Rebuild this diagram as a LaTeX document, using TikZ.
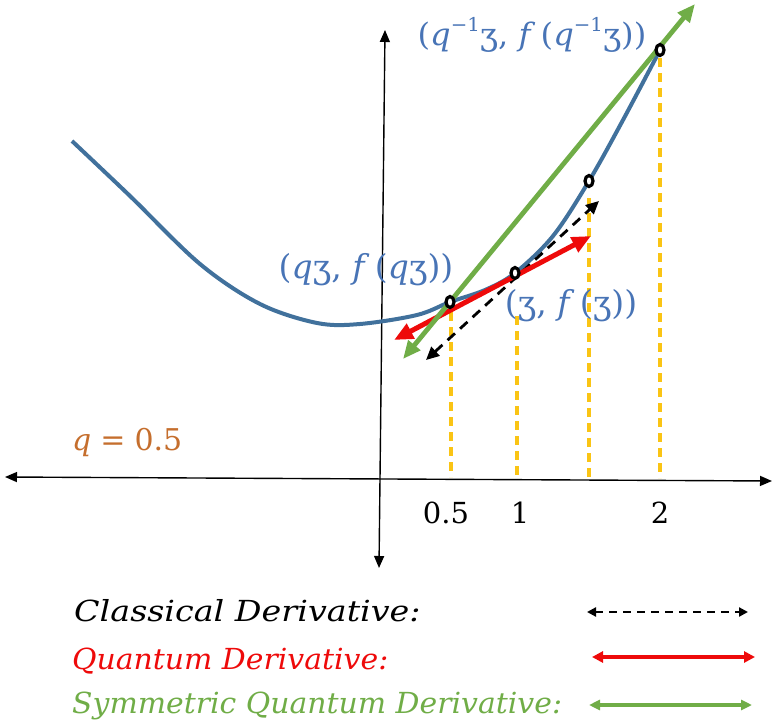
\documentclass[tikz,border=0pt]{standalone}
\usepackage{fontspec}
\setmainfont{DejaVu Serif}
\usepackage{graphicx}
\usetikzlibrary{arrows.meta,shapes.geometric}
\newcommand\supm{\raisebox{0.45em}{\fontsize{19}{22}\selectfont −1}}
\definecolor{curveblue}{RGB}{65,113,156}
\definecolor{labblue}{RGB}{72,116,182}
\definecolor{qgreen}{RGB}{112,173,71}
\definecolor{qred}{RGB}{238,10,10}
\definecolor{ygold}{RGB}{250,196,20}
\definecolor{qorange}{RGB}{197,110,45}
\tikzset{
  axisline/.style={draw=black, line width=1.4pt, {Triangle[length=12pt,width=10pt]}-{Triangle[length=12pt,width=10pt]}},
  ydash/.style={draw=ygold, line width=3.2pt, dash pattern=on 9pt off 6pt},
  curvestyle/.style={draw=curveblue, line width=4pt},
  ptmark/.style={draw=black, line width=3.2pt, ellipse, minimum width=8pt, minimum height=11pt, inner sep=0pt, fill=white},
  greenarr/.style={draw=qgreen, line width=4.8pt, {Triangle[length=18pt,width=15pt]}-{Triangle[length=18pt,width=15pt]}},
  redarr/.style={draw=qred, line width=5pt, {Triangle[length=19pt,width=16pt]}-{Triangle[length=19pt,width=16pt]}},
  blkarr/.style={draw=black, line width=2.8pt, dash pattern=on 10pt off 7pt, {Triangle[length=13pt,width=12pt]}-{Triangle[length=13pt,width=12pt]}},
  leggreen/.style={draw=qgreen, line width=3.2pt, {Triangle[length=11pt,width=10pt]}-{Triangle[length=11pt,width=10pt]}},
  legred/.style={draw=qred, line width=3.4pt, {Triangle[length=11pt,width=11pt]}-{Triangle[length=11pt,width=11pt]}},
  legblk/.style={draw=black, line width=2.2pt, dash pattern=on 8pt off 6pt, {Triangle[length=9pt,width=9pt]}-{Triangle[length=9pt,width=9pt]}},
  lab/.style={text=labblue, font=\fontsize{33}{38}\selectfont, inner sep=0pt},
  ticklab/.style={font=\fontsize{29}{34}\selectfont, inner sep=0pt, anchor=base},
  legtext/.style={font=\fontsize{29}{34}\selectfont\itshape, inner sep=0pt, anchor=base west}
}
\begin{document}
\begin{tikzpicture}[x=1pt,y=-1pt]
\useasboundingbox (0,0) rectangle (776,727);
% axes
\coordinate (xl) at (5,477);
\coordinate (xr) at (772,481);
\coordinate (yb) at (379,568);
\coordinate (yt) at (385,30);
\draw[axisline] (xl) -- (xr);
\draw[axisline] (yb) -- (yt);
% dashed guides from the points down to the axis
\coordinate (f1) at (451,477);
\coordinate (f2) at (517,477);
\coordinate (f3) at (589,477);
\coordinate (f4) at (660,478);
\coordinate (g1) at (451,312);
\coordinate (g2) at (517,316);
\coordinate (g3) at (589,198);
\coordinate (g4) at (660,58);
\draw[ydash] (g1) -- (f1);
\draw[ydash] (g2) -- (f2);
\draw[ydash] (g3) -- (f3);
\draw[ydash] (g4) -- (f4);
% curve
\draw[curvestyle] plot[smooth, tension=0.55] coordinates {(72,141) (130,196) (200,264) (260,304) (317,323) (360,324) (417,315) (450,302) (485,290) (515,273) (553,236) (589,181) (623,120) (660,50)};
% secant / tangent arrows
\coordinate (ga) at (403,359);
\coordinate (gb) at (695,4);
\coordinate (ra) at (394,340);
\coordinate (rb) at (591,236);
\coordinate (ba) at (426,360);
\coordinate (bb) at (599,201);
\draw[blkarr] (ba) -- (bb);
\draw[redarr] (ra) -- (rb);
\draw[greenarr] (ga) -- (gb);
% points
\node[ptmark] (pqz) at (450,302) {};
\node[ptmark] (pz) at (515,273) {};
\node[ptmark] (pm) at (589,181) {};
\node[ptmark] (pqi) at (660,50) {};
% labels
\node[lab, font=\fontsize{31}{36}\selectfont] (ltop) at (532,35) {\scalebox{1.04}[1]{(\textit{q}\supm ʒ, \textit{f}\,(\textit{q}\supm ʒ))}};
\node[lab] (lqz) at (366,270) {(\textit{q}ʒ, \textit{f}\,(\textit{q}ʒ))};
\node[lab] (lz) at (571,306) {(ʒ, \textit{f}\,(ʒ))};
\node[text=qorange, font=\fontsize{30}{36}\selectfont, inner sep=0pt, anchor=base west] (lq) at (72,450) {\textit{q}\hspace{0.3em}=\hspace{0.3em}0.5};
% ticks
\node[ticklab] (t05) at (446,523) {0.5};
\node[ticklab] (t1) at (520,523) {1};
\node[ticklab] (t2) at (660,523) {2};
% legend
\node[legtext, text=black] (leg1) at (74,621) {\scalebox{1.15}[1]{Classical Derivative:}};
\node[legtext, text=qred] (leg2) at (72,669) {\scalebox{1.03}[1]{Quantum Derivative:}};
\node[legtext, text=qgreen] (leg3) at (72,713) {\scalebox{1.03}[1]{Symmetric Quantum Derivative:}};
\coordinate (l1a) at (587,612);
\coordinate (l1b) at (748,612);
\coordinate (l2a) at (592,657);
\coordinate (l2b) at (755,657);
\coordinate (l3a) at (589,705);
\coordinate (l3b) at (752,705);
\draw[legblk] (l1a) -- (l1b);
\draw[legred] (l2a) -- (l2b);
\draw[leggreen] (l3a) -- (l3b);
\end{tikzpicture}
\end{document}
